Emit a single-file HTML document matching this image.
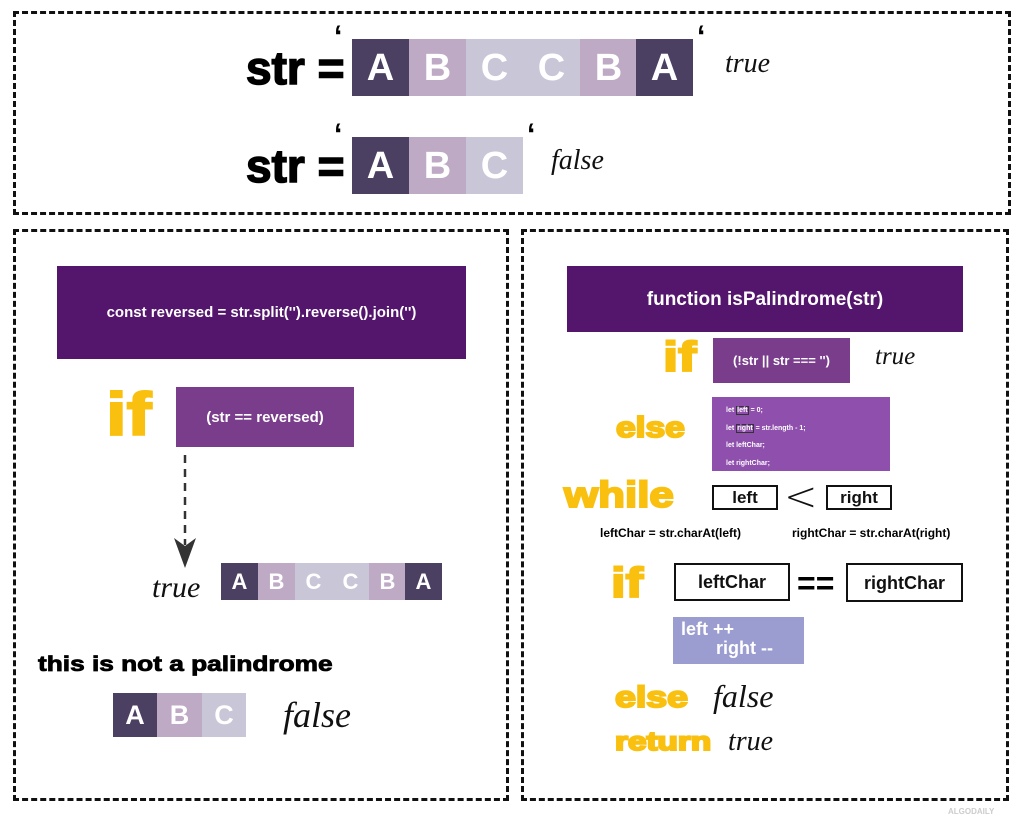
<!DOCTYPE html>
<html><head><meta charset="utf-8"><style>
*{margin:0;padding:0;box-sizing:border-box}
body{width:1024px;height:819px;background:#fff;position:relative;overflow:hidden;font-family:"Liberation Sans",sans-serif}
div{position:absolute}
.dash{border:3px dashed #111}
.b{font-weight:bold}
.y{color:#f9c00f;font-weight:900;font-family:"Liberation Sans",sans-serif;-webkit-text-stroke:2px #f9c00f;line-height:1;transform-origin:left top}
.it{font-family:"Liberation Serif",serif;font-style:italic;color:#111;line-height:1}
.c{display:flex;align-items:center;justify-content:center;color:#fff;font-weight:bold;line-height:1}
.d{background:#4b3f62}.m{background:#bfaac6}.l{background:#c9c6d8}
.bx{border:2px solid #111;display:flex;align-items:center;justify-content:center;font-weight:bold;color:#111;line-height:1}
</style></head><body>
<div class="dash" style="left:13px;top:11px;width:998px;height:204px"></div>
<div class="dash" style="left:13px;top:229px;width:496px;height:572px"></div>
<div class="dash" style="left:521px;top:229px;width:488px;height:572px"></div>

<!-- top -->
<div class="b" style="left:246px;top:45px;font-size:46px;line-height:1;-webkit-text-stroke:1.5px #000">str =</div>
<div class="b" style="left:334px;top:22px;font-size:30px;line-height:1">‘</div>
<div class="c d" style="left:352px;top:39px;width:57px;height:57px;font-size:38px">A</div>
<div class="c m" style="left:409px;top:39px;width:57px;height:57px;font-size:38px">B</div>
<div class="c l" style="left:466px;top:39px;width:57px;height:57px;font-size:38px">C</div>
<div class="c l" style="left:523px;top:39px;width:57px;height:57px;font-size:38px">C</div>
<div class="c m" style="left:580px;top:39px;width:57px;height:57px;font-size:38px">B</div>
<div class="c d" style="left:636px;top:39px;width:57px;height:57px;font-size:38px">A</div>
<div class="b" style="left:697px;top:22px;font-size:30px;line-height:1">‘</div>
<div class="it" style="left:725px;top:50px;font-size:28px">true</div>

<div class="b" style="left:246px;top:143px;font-size:46px;line-height:1;-webkit-text-stroke:1.5px #000">str =</div>
<div class="b" style="left:334px;top:120px;font-size:30px;line-height:1">‘</div>
<div class="c d" style="left:352px;top:137px;width:57px;height:57px;font-size:38px">A</div>
<div class="c m" style="left:409px;top:137px;width:57px;height:57px;font-size:38px">B</div>
<div class="c l" style="left:466px;top:137px;width:57px;height:57px;font-size:38px">C</div>
<div class="b" style="left:527px;top:120px;font-size:30px;line-height:1">‘</div>
<div class="it" style="left:551px;top:147px;font-size:28px">false</div>

<!-- left -->
<div class="c" style="left:57px;top:266px;width:409px;height:93px;background:#54166d;font-size:15px">const reversed = str.split('').reverse().join('')</div>
<div class="y" style="left:106px;top:385px;font-size:60px;transform:scaleX(1.24)">if</div>
<div class="c" style="left:176px;top:387px;width:178px;height:60px;background:#7a3d8c;font-size:15px">(str == reversed)</div>
<svg style="position:absolute;left:170px;top:450px" width="30" height="120"><line x1="15" y1="5" x2="15" y2="95" stroke="#333" stroke-width="2.5" stroke-dasharray="8,6"/><polygon points="4,88 15,118 26,88 15,96" fill="#333"/></svg>
<div class="it" style="left:152px;top:573px;font-size:30px">true</div>
<div class="c d" style="left:221px;top:563px;width:37px;height:37px;font-size:22px">A</div>
<div class="c m" style="left:258px;top:563px;width:37px;height:37px;font-size:22px">B</div>
<div class="c l" style="left:295px;top:563px;width:37px;height:37px;font-size:22px">C</div>
<div class="c l" style="left:332px;top:563px;width:37px;height:37px;font-size:22px">C</div>
<div class="c m" style="left:369px;top:563px;width:37px;height:37px;font-size:22px">B</div>
<div class="c d" style="left:405px;top:563px;width:37px;height:37px;font-size:22px">A</div>
<div class="b" style="left:38px;top:654px;font-size:21px;line-height:1;-webkit-text-stroke:0.8px #000;transform:scaleX(1.25);transform-origin:left top">this is not a palindrome</div>
<div class="c d" style="left:113px;top:693px;width:44px;height:44px;font-size:27px">A</div>
<div class="c m" style="left:157px;top:693px;width:45px;height:44px;font-size:27px">B</div>
<div class="c l" style="left:202px;top:693px;width:44px;height:44px;font-size:27px">C</div>
<div class="it" style="left:283px;top:697px;font-size:36px">false</div>

<!-- right -->
<div class="c" style="left:567px;top:266px;width:396px;height:66px;background:#54166d;font-size:19px">function isPalindrome(str)</div>
<div class="y" style="left:663px;top:336px;font-size:42px;transform:scaleX(1.3)">if</div>
<div class="c" style="left:713px;top:338px;width:137px;height:45px;background:#7a3d8c;font-size:13px">(!str || str === '')</div>
<div class="it" style="left:875px;top:344px;font-size:25px">true</div>
<div class="y" style="left:616px;top:414px;font-size:29px;transform:scaleX(1.22)">else</div>
<div style="left:712px;top:397px;width:178px;height:74px;background:#8e4fad;color:#fff;font-weight:bold;font-size:7px;line-height:17.5px;padding:5px 0 0 14px">let <span style="border:1px solid #333">left</span> = 0;<br>let <span style="border:1px solid #333">right</span> = str.length - 1;<br>let leftChar;<br>let rightChar;</div>
<div class="y" style="left:564px;top:477px;font-size:36px;transform:scaleX(1.22)">while</div>
<div class="bx" style="left:712px;top:485px;width:66px;height:25px;font-size:17px">left</div>
<div style="left:784px;top:477px;font-size:40px;line-height:1;font-weight:300;color:#111;font-family:'DejaVu Sans',sans-serif">&lt;</div>
<div class="bx" style="left:826px;top:485px;width:66px;height:25px;font-size:17px">right</div>
<div class="b" style="left:600px;top:527px;font-size:12px;line-height:1">leftChar = str.charAt(left)</div>
<div class="b" style="left:792px;top:527px;font-size:12px;line-height:1">rightChar = str.charAt(right)</div>
<div class="y" style="left:611px;top:562px;font-size:42px;transform:scaleX(1.25)">if</div>
<div class="bx" style="left:674px;top:563px;width:116px;height:38px;font-size:18px">leftChar</div>
<div class="b" style="left:797px;top:567px;font-size:32px;line-height:1;font-weight:900">==</div>
<div class="bx" style="left:846px;top:563px;width:117px;height:39px;font-size:18px">rightChar</div>
<div style="left:673px;top:617px;width:131px;height:47px;background:#9b9ccf;color:#fff;font-weight:bold;font-size:18px;line-height:19px;padding:3px 0 0 8px">left ++<br>&nbsp;&nbsp;&nbsp;&nbsp;&nbsp;&nbsp;&nbsp;right --</div>
<div class="y" style="left:615px;top:683px;font-size:30px;transform:scaleX(1.25)">else</div>
<div class="it" style="left:713px;top:680px;font-size:32px">false</div>
<div class="y" style="left:615px;top:728px;font-size:26px;transform:scaleX(1.28)">return</div>
<div class="it" style="left:728px;top:728px;font-size:28px">true</div>
<div style="left:948px;top:808px;font-size:8px;color:#ccc;font-weight:bold;line-height:1">ALGODAILY</div>
</body></html>
